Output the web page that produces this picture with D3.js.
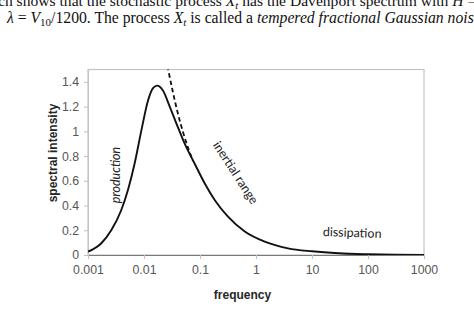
<!DOCTYPE html>
<html>
<head>
<meta charset="utf-8">
<script src="https://cdn.jsdelivr.net/npm/d3@7"></script>
<style>
  html, body { margin: 0; padding: 0; background: #fff; }
  svg { display: block; }
</style>
</head>
<body>
<svg id="chart" width="474" height="326"></svg>
<script>
// Spectrum curve (frequency vs. spectral intensity)
const freq = [0.001, 0.00173, 0.0026, 0.0039, 0.0052, 0.0068, 0.009, 0.0118, 0.0145, 0.0173,
              0.0218, 0.0288, 0.0378, 0.0533, 0.080, 0.121, 0.183, 0.316, 0.63, 1.43,
              3.73, 10, 30, 100, 300, 1000];
const intensity = [0.027, 0.095, 0.20, 0.36, 0.53, 0.74, 1.01, 1.25, 1.35, 1.37,
                   1.33, 1.20, 1.065, 0.90, 0.74, 0.58, 0.445, 0.31, 0.19, 0.108,
                   0.054, 0.03, 0.014, 0.006, 0.002, 0.0005];

// Inertial-range asymptote (dashed)
const asymFreq = [0.0262, 0.032, 0.04, 0.05, 0.062, 0.075];
const asymIntensity = [1.53, 1.34, 1.15, 0.99, 0.86, 0.76];

// Axis ticks
const xTicks = [0.001, 0.01, 0.1, 1, 10, 100, 1000];
const xTickLabels = ["0.001", "0.01", "0.1", "1", "10", "100", "1000"];
const yTicks = [0, 0.2, 0.4, 0.6, 0.8, 1, 1.2, 1.4];
const yTickLabels = ["0", "0.2", "0.4", "0.6", "0.8", "1", "1.2", "1.4"];

const svg = d3.select("#chart");
const plotLeft = 88, plotRight = 424, plotTop = 69.5, plotBottom = 255;

const x = d3.scaleLog().domain([0.001, 1000]).range([plotLeft, plotRight]);
const y = d3.scaleLinear().domain([0, 1.5]).range([plotBottom, plotTop]);

// Running text above the figure
const serif = "'Liberation Serif', 'DejaVu Serif', serif";
const head1 = svg.append("text").attr("x", -2).attr("y", 6)
  .attr("font-family", serif).attr("font-size", 15.6).attr("fill", "#111");
head1.append("tspan").text("ch shows that the stochastic process ");
head1.append("tspan").attr("font-style", "italic").text("X");
head1.append("tspan").attr("font-style", "italic").attr("font-size", 11).attr("dy", 3).text("t");
head1.append("tspan").attr("dy", -3).text(" has the Davenport spectrum with ");
head1.append("tspan").attr("font-style", "italic").text("H");
head1.append("tspan").text(" =");

const head2 = svg.append("text").attr("x", 7).attr("y", 23)
  .attr("font-family", serif).attr("font-size", 15.7).attr("fill", "#111");
head2.append("tspan").attr("font-style", "italic").text("λ");
head2.append("tspan").text(" = ");
head2.append("tspan").attr("font-style", "italic").text("V");
head2.append("tspan").attr("font-size", 11).attr("dy", 3).text("10");
head2.append("tspan").attr("dy", -3).text("/1200.  The process ");
head2.append("tspan").attr("font-style", "italic").text("X");
head2.append("tspan").attr("font-style", "italic").attr("font-size", 11).attr("dy", 3).text("t");
head2.append("tspan").attr("dy", -3).text(" is called a ");
head2.append("tspan").attr("font-style", "italic").text("tempered fractional Gaussian noise");

// Plot area frame
svg.append("rect")
  .attr("x", plotLeft).attr("y", plotTop)
  .attr("width", plotRight - plotLeft).attr("height", plotBottom - plotTop)
  .attr("fill", "none").attr("stroke", "#c4c4c4").attr("stroke-width", 1.2);

// Y axis
const yAxis = d3.axisLeft(y).tickValues(yTicks)
  .tickFormat((d, i) => yTickLabels[i]).tickSize(4).tickSizeOuter(0).tickPadding(5);
const gy = svg.append("g").attr("transform", `translate(${plotLeft},0)`).call(yAxis);
gy.select(".domain").attr("stroke", "#c4c4c4");
gy.selectAll(".tick line").attr("stroke", "#c4c4c4");
gy.selectAll(".tick text").attr("font-family", "'Liberation Sans', Arial, sans-serif")
  .attr("font-size", 12.3).attr("fill", "#555");

// X axis
const xAxis = d3.axisBottom(x).tickValues(xTicks)
  .tickFormat((d, i) => xTickLabels[i]).tickSize(4).tickSizeOuter(0).tickPadding(6);
const gx = svg.append("g").attr("transform", `translate(0,${plotBottom})`).call(xAxis);
gx.select(".domain").attr("stroke", "#7a7a7a");
gx.selectAll(".tick line").attr("stroke", "#c4c4c4");
gx.selectAll(".tick text").attr("font-family", "'Liberation Sans', Arial, sans-serif")
  .attr("font-size", 12.3).attr("fill", "#555");

// Axis titles
svg.append("text")
  .attr("transform", "translate(57,153) rotate(-90)")
  .attr("text-anchor", "middle")
  .attr("font-family", "'Liberation Sans', Arial, sans-serif")
  .attr("font-size", 12).attr("font-weight", "bold").attr("fill", "#262626")
  .text("spectral intensity");
svg.append("text")
  .attr("x", 242.5).attr("y", 299)
  .attr("text-anchor", "middle")
  .attr("font-family", "'Liberation Sans', Arial, sans-serif")
  .attr("font-size", 12).attr("font-weight", "bold").attr("fill", "#262626")
  .text("frequency");

// Clip to the plot area
svg.append("clipPath").attr("id", "plot-clip")
  .append("rect").attr("x", plotLeft).attr("y", plotTop)
  .attr("width", plotRight - plotLeft).attr("height", plotBottom - plotTop);

const line = d3.line()
  .x(d => x(d[0])).y(d => y(d[1]))
  .curve(d3.curveMonotoneX);

const plot = svg.append("g").attr("clip-path", "url(#plot-clip)");

plot.append("path")
  .datum(d3.zip(asymFreq, asymIntensity))
  .attr("d", line)
  .attr("fill", "none").attr("stroke", "#111")
  .attr("stroke-width", 1.8).attr("stroke-dasharray", "4.5,3");

plot.append("path")
  .datum(d3.zip(freq, intensity))
  .attr("d", line)
  .attr("fill", "none").attr("stroke", "#111")
  .attr("stroke-width", 1.9);

// Region annotations
const annFont = "Lato, 'Open Sans', sans-serif";
svg.append("text")
  .attr("transform", "translate(120,175) rotate(-90)")
  .attr("text-anchor", "middle")
  .attr("font-family", annFont).attr("font-size", 12.5)
  .attr("font-style", "italic").attr("fill", "#222")
  .text("production");
svg.append("text")
  .attr("transform", "translate(232,175) rotate(57)")
  .attr("text-anchor", "middle")
  .attr("font-family", annFont).attr("font-size", 12.5).attr("fill", "#222")
  .text("inertial range");
svg.append("text")
  .attr("transform", "translate(352,237) rotate(2)")
  .attr("text-anchor", "middle")
  .attr("font-family", annFont).attr("font-size", 12.5).attr("fill", "#222")
  .text("dissipation");
</script>
</body>
</html>
